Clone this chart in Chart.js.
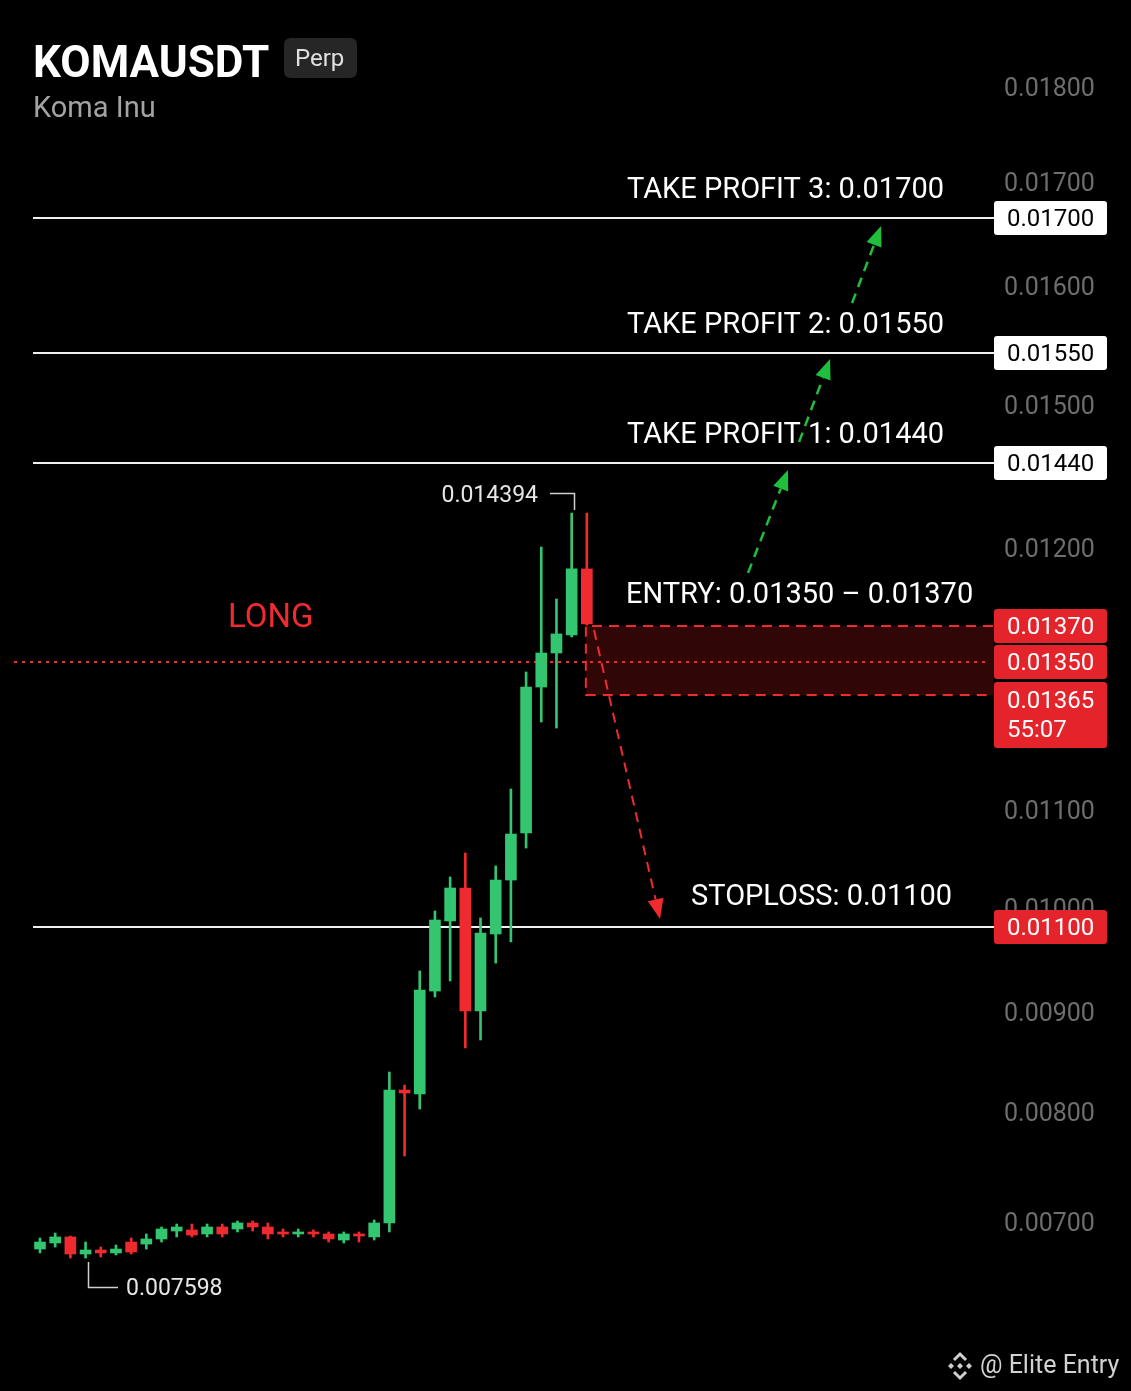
<!DOCTYPE html>
<html>
<head>
<meta charset="utf-8">
<title>KOMAUSDT</title>
<script src="https://cdn.jsdelivr.net/npm/chart.js@4.4.1/dist/chart.umd.min.js"></script>
<style>
  html, body { margin: 0; padding: 0; background: #000; }
  #wrap { width: 1131px; height: 1391px; position: relative; }
</style>
</head>
<body>
<div id="wrap"><canvas id="chart"></canvas></div>
<script>
// Candle data (one entry per candle, oldest first)
const candleOpen = [
  0.007962, 0.008019, 0.008076, 0.007915, 0.007953, 0.007925, 0.008028, 0.008009, 0.008057, 0.008132,
  0.008142, 0.008104, 0.008170, 0.008151, 0.008208, 0.008170, 0.008123, 0.008104, 0.008123, 0.008104,
  0.008047, 0.008104, 0.008076, 0.008208, 0.009462, 0.009425, 0.010396, 0.011057, 0.011368, 0.010208,
  0.010934, 0.011443, 0.011887, 0.013264, 0.013550, 0.013650, 0.013945
];
const candleClose = [
  0.008028, 0.008076, 0.007915, 0.007953, 0.007925, 0.007962, 0.007934, 0.008057, 0.008151, 0.008170,
  0.008094, 0.008170, 0.008104, 0.008208, 0.008170, 0.008104, 0.008104, 0.008123, 0.008104, 0.008057,
  0.008104, 0.008085, 0.008208, 0.009462, 0.009434, 0.010406, 0.011066, 0.011368, 0.010208, 0.010943,
  0.011443, 0.011877, 0.013264, 0.013550, 0.013656, 0.013945, 0.013709
];
const candleHigh = [
  0.008066, 0.008113, 0.008085, 0.008028, 0.007981, 0.008000, 0.008066, 0.008104, 0.008170, 0.008198,
  0.008198, 0.008198, 0.008198, 0.008226, 0.008226, 0.008208, 0.008151, 0.008151, 0.008142, 0.008123,
  0.008123, 0.008123, 0.008236, 0.009632, 0.009509, 0.010585, 0.011151, 0.011472, 0.011698, 0.011085,
  0.011576, 0.012302, 0.013406, 0.014039, 0.013816, 0.014185, 0.014185
];
const candleLow = [
  0.007925, 0.007981, 0.007877, 0.007877, 0.007887, 0.007906, 0.007915, 0.007962, 0.008028, 0.008076,
  0.008076, 0.008076, 0.008076, 0.008123, 0.008132, 0.008057, 0.008076, 0.008076, 0.008076, 0.008028,
  0.008019, 0.008028, 0.008047, 0.008123, 0.008840, 0.009283, 0.010340, 0.010491, 0.009859, 0.009934,
  0.010660, 0.010859, 0.011745, 0.012934, 0.012877, 0.013639, 0.013704
];

// Price axis tick labels as shown on the right
const tickValues = [0.007, 0.008, 0.009, 0.010, 0.011, 0.012, 0.015, 0.016, 0.017, 0.018];

// Trade plan levels
const takeProfits = [0.01700, 0.01550, 0.01440];
const stopLoss = 0.01100;
const entryLow = 0.01350;
const entryHigh = 0.01370;
const entryZoneBottom = 0.013189;
const lastPrice = 0.01365;
const countdown = '55:07';
const highLabel = '0.014394';
const lowLabel = '0.007598';

// arrows in [candle index, price]
const upArrows = [
  [[46.61, 0.013928], [49.24, 0.014370]],
  [[49.97, 0.014610], [52.01, 0.015440]],
  [[53.46, 0.016056], [55.37, 0.016911]]
];
const downArrow = [[36.47, 0.013678], [40.82, 0.011075]];

const GREEN = '#33c56f';
const RED = '#ef2b2f';
const BADGE_RED = '#e5232b';
const ARROW_GREEN = '#1fbf3c';

// The screenshot's price axis is not evenly spaced, so both price scales
// use a piecewise mapping (value -> position on the 1391px tall canvas).
const REF_H = 1391;
const scaleKnots = {
  y: [[0.0110, 927], [0.0135, 662], [0.0137, 626], [0.0144, 463], [0.0155, 353], [0.0170, 218]],
  yTicks: [[0.007, 1225], [0.008, 1115], [0.009, 1015], [0.010, 911], [0.011, 813],
           [0.012, 551], [0.015, 408], [0.016, 289], [0.017, 185], [0.018, 90]]
};

function valueToRef(knots, v) {
  let i = 0;
  while (i < knots.length - 2 && v > knots[i + 1][0]) i++;
  const [v0, p0] = knots[i];
  const [v1, p1] = knots[i + 1];
  return p0 + (v - v0) / (v1 - v0) * (p1 - p0);
}

function refToValue(knots, p) {
  let i = 0;
  while (i < knots.length - 2 && p < knots[i + 1][1]) i++;
  const [v0, p0] = knots[i];
  const [v1, p1] = knots[i + 1];
  return v0 + (p - p0) / (p1 - p0) * (v1 - v0);
}

class PiecewiseScale extends Chart.LinearScale {
  getPixelForValue(value) {
    return valueToRef(scaleKnots[this.id], value) / REF_H * this.chart.height;
  }
  getValueForPixel(pixel) {
    return refToValue(scaleKnots[this.id], pixel / this.chart.height * REF_H);
  }
}
PiecewiseScale.id = 'piecewise';
PiecewiseScale.defaults = Chart.LinearScale.defaults;
Chart.register(PiecewiseScale);

const candleColors = candleOpen.map((o, i) => candleClose[i] >= o ? GREEN : RED);
const bodies = candleOpen.map((o, i) => ({ x: i, y: [o, candleClose[i]] }));
const wicks = candleLow.map((l, i) => ({ x: i, y: [l, candleHigh[i]] }));

function roundRect(ctx, x, y, w, h, r) {
  ctx.beginPath();
  ctx.moveTo(x + r, y);
  ctx.lineTo(x + w - r, y);
  ctx.quadraticCurveTo(x + w, y, x + w, y + r);
  ctx.lineTo(x + w, y + h - r);
  ctx.quadraticCurveTo(x + w, y + h, x + w - r, y + h);
  ctx.lineTo(x + r, y + h);
  ctx.quadraticCurveTo(x, y + h, x, y + h - r);
  ctx.lineTo(x, y + r);
  ctx.quadraticCurveTo(x, y, x + r, y);
  ctx.closePath();
}

function drawArrow(ctx, x0, y0, x1, y1, color, width) {
  const ang = Math.atan2(y1 - y0, x1 - x0);
  const head = 20, half = 8;
  const bx = x1 - head * Math.cos(ang);
  const by = y1 - head * Math.sin(ang);
  ctx.save();
  ctx.strokeStyle = color;
  ctx.lineWidth = width;
  ctx.setLineDash([10, 7]);
  ctx.beginPath();
  ctx.moveTo(x0, y0);
  ctx.lineTo(bx, by);
  ctx.stroke();
  ctx.setLineDash([]);
  ctx.fillStyle = color;
  ctx.beginPath();
  ctx.moveTo(x1, y1);
  ctx.lineTo(bx + half * Math.sin(ang), by - half * Math.cos(ang));
  ctx.lineTo(bx - half * Math.sin(ang), by + half * Math.cos(ang));
  ctx.closePath();
  ctx.fill();
  ctx.restore();
}

function text(ctx, str, x, y, font, color, align) {
  ctx.font = font;
  ctx.fillStyle = color;
  ctx.textAlign = align || 'left';
  ctx.textBaseline = 'middle';
  ctx.fillText(str, x, y);
}

const overlay = {
  id: 'overlay',
  beforeDatasetsDraw(chart) {
    const { ctx, chartArea } = chart;
    const y = chart.scales.y;
    const x = chart.scales.x;
    ctx.save();
    // level lines
    ctx.strokeStyle = '#f0f0f0';
    ctx.lineWidth = 2;
    takeProfits.concat([stopLoss]).forEach(v => {
      const py = Math.round(y.getPixelForValue(v));
      ctx.beginPath();
      ctx.moveTo(33, py);
      ctx.lineTo(chartArea.right + 4, py);
      ctx.stroke();
    });
    // entry zone
    const zx = x.getPixelForValue(candleOpen.length - 1) - 1;
    const zTop = y.getPixelForValue(entryHigh);
    const zBot = y.getPixelForValue(entryZoneBottom);
    ctx.fillStyle = 'rgba(115, 14, 14, 0.42)';
    ctx.fillRect(zx, zTop, chartArea.right + 3 - zx, zBot - zTop);
    ctx.strokeStyle = RED;
    ctx.lineWidth = 2;
    ctx.setLineDash([10, 7]);
    ctx.beginPath();
    ctx.moveTo(chartArea.right + 3, zTop);
    ctx.lineTo(zx, zTop);
    ctx.lineTo(zx, zBot);
    ctx.lineTo(chartArea.right + 3, zBot);
    ctx.stroke();
    // last price dotted line
    const cy = Math.round(y.getPixelForValue(entryLow));
    ctx.setLineDash([3, 5]);
    ctx.lineWidth = 2;
    ctx.beginPath();
    ctx.moveTo(14, cy);
    ctx.lineTo(chartArea.right, cy);
    ctx.stroke();
    ctx.restore();
  },
  afterDraw(chart) {
    const { ctx, chartArea } = chart;
    const y = chart.scales.y;
    const x = chart.scales.x;
    ctx.save();

    // arrows
    upArrows.forEach(([a, b]) => {
      drawArrow(ctx, x.getPixelForValue(a[0]), y.getPixelForValue(a[1]),
        x.getPixelForValue(b[0]), y.getPixelForValue(b[1]), ARROW_GREEN, 2.5);
    });
    drawArrow(ctx, x.getPixelForValue(downArrow[0][0]), y.getPixelForValue(downArrow[0][1]),
      x.getPixelForValue(downArrow[1][0]), y.getPixelForValue(downArrow[1][1]), RED, 2);

    // level captions
    const capFont = '29px Roboto';
    const fmt = v => v.toFixed(5);
    const tpOffsets = [27, 27, 27];
    takeProfits.forEach((v, i) => {
      text(ctx, 'TAKE PROFIT ' + (3 - i) + ': ' + fmt(v), 627, y.getPixelForValue(v) - tpOffsets[i], capFont, '#ffffff');
    });
    text(ctx, 'ENTRY: ' + fmt(entryLow) + ' \u2013 ' + fmt(entryHigh), 626, y.getPixelForValue(entryHigh) - 30, capFont, '#ffffff');
    text(ctx, 'STOPLOSS: ' + fmt(stopLoss), 691, y.getPixelForValue(stopLoss) - 29, capFont, '#ffffff');
    text(ctx, 'LONG', 228, 619, '33px Roboto', RED);

    // high / low markers
    ctx.strokeStyle = '#cfcfcf';
    ctx.lineWidth = 1.5;
    ctx.beginPath();
    ctx.moveTo(550, 493.5);
    ctx.lineTo(574.5, 493.5);
    ctx.lineTo(574.5, 510);
    ctx.stroke();
    text(ctx, highLabel, 538, 496, '23px Roboto', '#e6e6e6', 'right');
    ctx.beginPath();
    ctx.moveTo(88.5, 1262);
    ctx.lineTo(88.5, 1287.5);
    ctx.lineTo(118, 1287.5);
    ctx.stroke();
    text(ctx, lowLabel, 126, 1289, '23px Roboto', '#e6e6e6');

    // price badges on the axis
    const bx = chartArea.right + 4;
    const bw = 113, bh = 34;
    const badge = (v, fill, color) => {
      const py = y.getPixelForValue(v);
      ctx.fillStyle = fill;
      roundRect(ctx, bx, py - bh / 2, bw, bh, 3);
      ctx.fill();
      text(ctx, fmt(v), bx + 13, py + 2, '24px Roboto', color);
    };
    takeProfits.forEach(v => badge(v, '#ffffff', '#000000'));
    badge(entryHigh, BADGE_RED, '#ffffff');
    badge(entryLow, BADGE_RED, '#ffffff');
    badge(stopLoss, BADGE_RED, '#ffffff');
    const ly = y.getPixelForValue(entryLow) + 20;
    ctx.fillStyle = BADGE_RED;
    roundRect(ctx, bx, ly, bw, 66, 3);
    ctx.fill();
    text(ctx, lastPrice.toFixed(5), bx + 13, ly + 20, '24px Roboto', '#ffffff');
    text(ctx, countdown, bx + 13, ly + 49, '24px Roboto', '#ffffff');

    // header
    ctx.fillStyle = '#ffffff';
    ctx.font = 'bold 44px Roboto';
    ctx.textAlign = 'left';
    ctx.textBaseline = 'alphabetic';
    ctx.fillText('KOMAUSDT', 33, 77);
    ctx.fillStyle = '#262626';
    roundRect(ctx, 284, 38, 73, 40, 7);
    ctx.fill();
    text(ctx, 'Perp', 295, 60, '24px Roboto', '#e0e0e0');
    text(ctx, 'Koma Inu', 33, 110, '29px Roboto', '#a3a3a3');

    // watermark
    const lx = 960, lyy = 1366;
    ctx.fillStyle = '#cfcfcf';
    const dia = (cx, cy, r) => {
      ctx.beginPath();
      ctx.moveTo(cx, cy - r); ctx.lineTo(cx + r, cy); ctx.lineTo(cx, cy + r); ctx.lineTo(cx - r, cy);
      ctx.closePath(); ctx.fill();
    };
    dia(lx - 9, lyy, 3);
    dia(lx + 9, lyy, 3);
    dia(lx, lyy, 3);
    ctx.strokeStyle = '#cfcfcf';
    ctx.lineWidth = 3;
    ctx.beginPath();
    ctx.moveTo(lx - 6, lyy - 6); ctx.lineTo(lx, lyy - 12); ctx.lineTo(lx + 6, lyy - 6);
    ctx.moveTo(lx - 6, lyy + 6); ctx.lineTo(lx, lyy + 12); ctx.lineTo(lx + 6, lyy + 6);
    ctx.stroke();
    text(ctx, '@ Elite Entry', 980, 1367, '25px Roboto', '#d2d2d2');
    ctx.restore();
  }
};

new Chart(document.getElementById('chart'), {
  type: 'bar',
  data: {
    datasets: [
      {
        label: 'Body',
        data: bodies,
        backgroundColor: candleColors,
        barThickness: 11,
        grouped: false,
        order: 0
      },
      {
        label: 'Wick',
        data: wicks,
        backgroundColor: candleColors,
        barThickness: 2,
        grouped: false,
        order: 1
      }
    ]
  },
  options: {
    responsive: true,
    maintainAspectRatio: false,
    animation: false,
    layout: { padding: 0 },
    plugins: {
      legend: { display: false },
      tooltip: { enabled: false }
    },
    scales: {
      x: {
        type: 'linear',
        min: -2.633,
        max: 62.54,
        offset: false,
        display: false
      },
      y: {
        type: 'piecewise',
        display: false
      },
      yTicks: {
        type: 'piecewise',
        position: 'right',
        min: 0.0065,
        max: 0.0185,
        afterBuildTicks: s => { s.ticks = tickValues.map(v => ({ value: v })); },
        afterFit: s => { s.width = 141; s.paddingTop = 0; s.paddingBottom = 0; },
        grid: { display: false, drawTicks: false },
        border: { display: false },
        ticks: {
          padding: 14,
          color: '#6e6e6e',
          font: { family: 'Roboto', size: 25 },
          callback: v => Number(v).toFixed(5)
        }
      }
    }
  },
  plugins: [overlay]
});
</script>
</body>
</html>
